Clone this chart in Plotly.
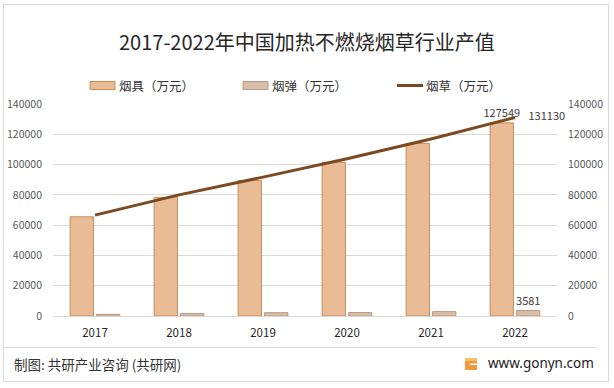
import plotly.graph_objects as go

years = ["2017", "2018", "2019", "2020", "2021", "2022"]
yanju = [65500, 78300, 89500, 101500, 114000, 127549]
yandan = [1100, 1700, 2200, 2300, 2900, 3581]
yancao = [66600, 80000, 91700, 103800, 116900, 131130]
yticks = [0, 20000, 40000, 60000, 80000, 100000, 120000, 140000]

W, H = 614, 388
L, R, T, B = 53, 57, 104, 72
PW, PH = W - L - R, H - T - B
FONT = "Noto Sans CJK SC"

def px(x):
    return (x - L) / PW

def py(y):
    return (H - B - y) / PH

def lbl(vals):
    return [""] * (len(vals) - 1) + [str(vals[-1])]

fig = go.Figure()
fig.add_trace(go.Bar(
    x=years, y=yanju, name="烟具（万元）",
    marker=dict(color="#EABC95", line=dict(color="#C98B5C", width=1)),
    text=lbl(yanju), textposition="outside", cliponaxis=False, constraintext="none",
    textfont=dict(size=11, color="#404040", family=FONT),
))
fig.add_trace(go.Bar(
    x=years, y=yandan, name="烟弹（万元）",
    marker=dict(color="#D8BDA8", line=dict(color="#BA9A82", width=1)),
    text=lbl(yandan), textposition="outside", cliponaxis=False, constraintext="none",
    textfont=dict(size=11, color="#404040", family=FONT),
))
fig.add_trace(go.Scatter(
    x=years, y=yancao, name="烟草（万元）", yaxis="y2",
    mode="lines+markers+text", line=dict(color="#7B4A22", width=3),
    marker=dict(size=20, color="rgba(0,0,0,0)", line=dict(width=0)),
    text=lbl(yancao), textposition="middle right", cliponaxis=False,
    textfont=dict(size=11, color="#404040", family=FONT),
))

shapes = []
ann = []
# outer border
shapes.append(dict(type="rect", xref="paper", yref="paper",
                   x0=px(3.5), x1=px(608.5), y0=py(381.5), y1=py(4.5),
                   line=dict(color="#D9D9D9", width=1), layer="below"))
# footer separator
shapes.append(dict(type="line", xref="paper", yref="paper",
                   x0=px(4), x1=px(597), y0=py(347.5), y1=py(347.5),
                   line=dict(color="#D9D9D9", width=1)))
# custom legend
leg = [("rect", "#EABC95", "#C98B5C", 90, "烟具（万元）"),
       ("rect", "#D8BDA8", "#BA9A82", 243, "烟弹（万元）"),
       ("line", "#7B4A22", "#7B4A22", 397, "烟草（万元）")]
for kind, fc, lc, x0, t in leg:
    if kind == "rect":
        shapes.append(dict(type="rect", xref="paper", yref="paper",
                           x0=px(x0), x1=px(x0 + 25), y0=py(89.5), y1=py(81.5),
                           fillcolor=fc, line=dict(color=lc, width=1)))
    else:
        shapes.append(dict(type="line", xref="paper", yref="paper",
                           x0=px(x0), x1=px(x0 + 26), y0=py(85.5), y1=py(85.5),
                           line=dict(color=fc, width=3)))
    ann.append(dict(text=t, xref="paper", yref="paper", x=px(x0 + 27), y=py(85.5),
                    xanchor="left", yanchor="middle", showarrow=False,
                    font=dict(size=12.5, color="#333333", family=FONT)))
# title
ann.append(dict(text="2017-2022年中国加热不燃烧烟草行业产值", xref="paper", yref="paper",
                x=px(307), y=py(42), xanchor="center", yanchor="middle", showarrow=False,
                font=dict(size=20, color="#262626", family=FONT)))
# footer
ann.append(dict(text="制图: 共研产业咨询 (共研网)", xref="paper", yref="paper",
                x=px(12), y=py(364), xanchor="left", yanchor="middle", showarrow=False,
                font=dict(size=13.5, color="#333333", family=FONT)))
ann.append(dict(text="www.gonyn.com", xref="paper", yref="paper",
                x=px(486), y=py(363), xanchor="left", yanchor="middle", showarrow=False,
                font=dict(size=13.5, color="#222222", family="Noto Sans")))
shapes.append(dict(type="rect", xref="paper", yref="paper",
                   x0=px(465), x1=px(477), y0=py(370), y1=py(358),
                   fillcolor="#F39A3C", line=dict(width=0)))
shapes.append(dict(type="rect", xref="paper", yref="paper",
                   x0=px(465), x1=px(477), y0=py(361), y1=py(358),
                   fillcolor="#F7C06A", line=dict(width=0)))
shapes.append(dict(type="rect", xref="paper", yref="paper",
                   x0=px(470), x1=px(477), y0=py(365), y1=py(363.5),
                   fillcolor="#FFFFFF", line=dict(width=0)))

yax = dict(range=[0, 140000], tickvals=yticks, tickformat="d",
           tickfont=dict(size=10.5, color="#595959", family=FONT),
           ticklabelstandoff=10, zeroline=False, fixedrange=True, automargin=False)

fig.update_layout(
    width=W, height=H,
    margin=dict(l=L, r=R, t=T, b=B, autoexpand=False),
    paper_bgcolor="white", plot_bgcolor="white",
    showlegend=False, hovermode=False,
    barmode="group", bargap=0.37, bargroupgap=0.12,
    xaxis=dict(type="category", showgrid=False, showline=True, linecolor="#D9D9D9",
               ticks="", tickfont=dict(size=11.5, color="#262626", family=FONT),
               ticklabelstandoff=6, automargin=False, fixedrange=True),
    yaxis=dict(**yax, showgrid=True, gridcolor="#D9D9D9", gridwidth=1, side="left"),
    yaxis2=dict(**yax, showgrid=False, overlaying="y", side="right"),
    shapes=shapes, annotations=ann,
)

fig.write_html("out.html", config={"displayModeBar": False},
               post_script="document.body.style.margin='0';")
